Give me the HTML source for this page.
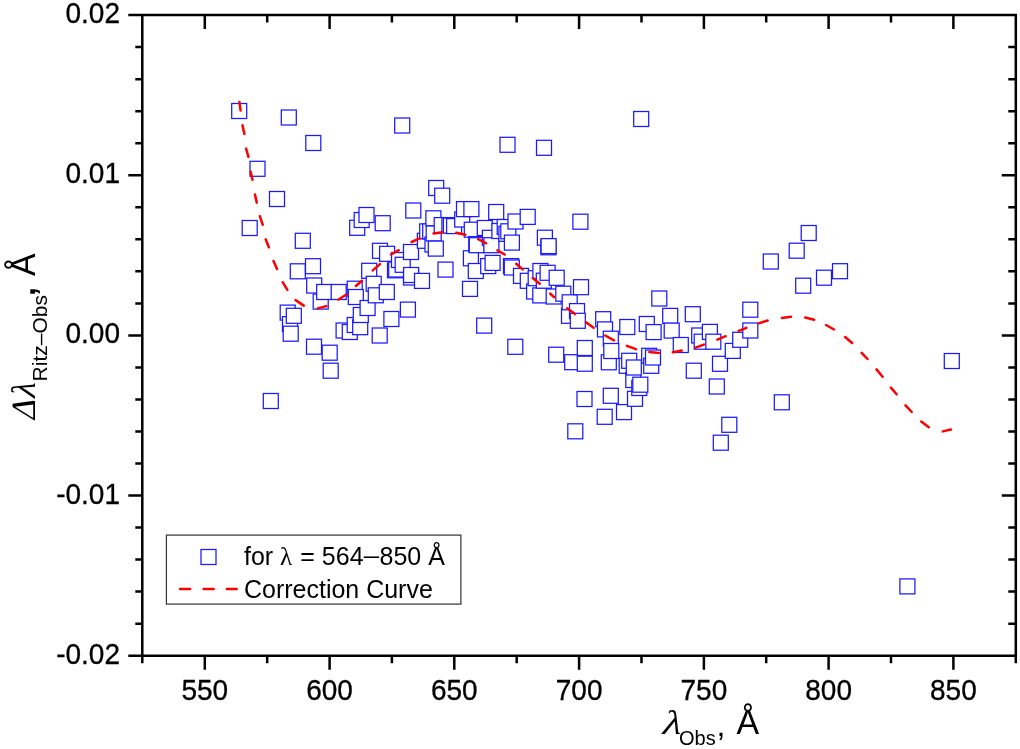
<!DOCTYPE html>
<html><head><meta charset="utf-8"><title>plot</title>
<style>html,body{margin:0;padding:0;background:#fff}svg{display:block}text{font-family:"Liberation Sans",sans-serif;fill:#000}.it{font-family:"Liberation Serif",serif;font-style:italic}</style></head>
<body>
<svg width="1020" height="749" viewBox="0 0 1020 749">
<rect width="1020" height="749" fill="#fff"/>
<g fill="#fff" stroke="#1a1aff" stroke-width="1.25">
<rect x="231.7" y="103.5" width="15.0" height="15.0"/>
<rect x="242.2" y="220.5" width="15.0" height="15.0"/>
<rect x="250.0" y="161.3" width="15.0" height="15.0"/>
<rect x="263.3" y="393.5" width="15.0" height="15.0"/>
<rect x="269.5" y="191.5" width="15.0" height="15.0"/>
<rect x="280.2" y="305.1" width="15.0" height="15.0"/>
<rect x="281.3" y="110.0" width="15.0" height="15.0"/>
<rect x="282.5" y="316.6" width="15.0" height="15.0"/>
<rect x="283.2" y="326.2" width="15.0" height="15.0"/>
<rect x="286.3" y="308.3" width="15.0" height="15.0"/>
<rect x="290.3" y="263.8" width="15.0" height="15.0"/>
<rect x="295.3" y="233.3" width="15.0" height="15.0"/>
<rect x="305.5" y="258.7" width="15.0" height="15.0"/>
<rect x="305.8" y="135.5" width="15.0" height="15.0"/>
<rect x="306.5" y="339.2" width="15.0" height="15.0"/>
<rect x="306.7" y="278.0" width="15.0" height="15.0"/>
<rect x="313.2" y="294.1" width="15.0" height="15.0"/>
<rect x="316.7" y="284.5" width="15.0" height="15.0"/>
<rect x="322.2" y="345.2" width="15.0" height="15.0"/>
<rect x="323.2" y="363.2" width="15.0" height="15.0"/>
<rect x="331.2" y="284.5" width="15.0" height="15.0"/>
<rect x="336.1" y="323.0" width="15.0" height="15.0"/>
<rect x="342.3" y="324.5" width="15.0" height="15.0"/>
<rect x="347.2" y="281.2" width="15.0" height="15.0"/>
<rect x="347.2" y="317.5" width="15.0" height="15.0"/>
<rect x="348.3" y="289.5" width="15.0" height="15.0"/>
<rect x="349.7" y="220.3" width="15.0" height="15.0"/>
<rect x="352.7" y="319.7" width="15.0" height="15.0"/>
<rect x="353.3" y="307.5" width="15.0" height="15.0"/>
<rect x="354.2" y="212.5" width="15.0" height="15.0"/>
<rect x="359.0" y="207.5" width="15.0" height="15.0"/>
<rect x="360.1" y="300.5" width="15.0" height="15.0"/>
<rect x="361.7" y="263.3" width="15.0" height="15.0"/>
<rect x="366.2" y="276.3" width="15.0" height="15.0"/>
<rect x="368.3" y="287.8" width="15.0" height="15.0"/>
<rect x="372.2" y="328.0" width="15.0" height="15.0"/>
<rect x="372.5" y="243.3" width="15.0" height="15.0"/>
<rect x="375.2" y="215.7" width="15.0" height="15.0"/>
<rect x="379.3" y="284.5" width="15.0" height="15.0"/>
<rect x="379.6" y="246.3" width="15.0" height="15.0"/>
<rect x="383.9" y="311.5" width="15.0" height="15.0"/>
<rect x="387.5" y="262.8" width="15.0" height="15.0"/>
<rect x="388.7" y="262.0" width="15.0" height="15.0"/>
<rect x="391.5" y="252.5" width="15.0" height="15.0"/>
<rect x="394.7" y="118.0" width="15.0" height="15.0"/>
<rect x="395.2" y="257.3" width="15.0" height="15.0"/>
<rect x="400.4" y="302.1" width="15.0" height="15.0"/>
<rect x="403.5" y="244.5" width="15.0" height="15.0"/>
<rect x="403.5" y="270.0" width="15.0" height="15.0"/>
<rect x="403.6" y="267.5" width="15.0" height="15.0"/>
<rect x="405.8" y="203.0" width="15.0" height="15.0"/>
<rect x="414.5" y="273.4" width="15.0" height="15.0"/>
<rect x="417.4" y="233.3" width="15.0" height="15.0"/>
<rect x="419.7" y="223.9" width="15.0" height="15.0"/>
<rect x="422.7" y="223.9" width="15.0" height="15.0"/>
<rect x="425.0" y="237.0" width="15.0" height="15.0"/>
<rect x="425.9" y="210.8" width="15.0" height="15.0"/>
<rect x="426.2" y="226.0" width="15.0" height="15.0"/>
<rect x="428.3" y="241.1" width="15.0" height="15.0"/>
<rect x="428.7" y="180.5" width="15.0" height="15.0"/>
<rect x="434.2" y="217.6" width="15.0" height="15.0"/>
<rect x="434.7" y="188.2" width="15.0" height="15.0"/>
<rect x="438.0" y="262.1" width="15.0" height="15.0"/>
<rect x="441.9" y="217.6" width="15.0" height="15.0"/>
<rect x="443.4" y="218.1" width="15.0" height="15.0"/>
<rect x="446.6" y="218.6" width="15.0" height="15.0"/>
<rect x="454.7" y="212.0" width="15.0" height="15.0"/>
<rect x="456.5" y="201.6" width="15.0" height="15.0"/>
<rect x="462.5" y="281.4" width="15.0" height="15.0"/>
<rect x="463.4" y="250.8" width="15.0" height="15.0"/>
<rect x="463.9" y="201.6" width="15.0" height="15.0"/>
<rect x="464.3" y="222.2" width="15.0" height="15.0"/>
<rect x="468.3" y="263.5" width="15.0" height="15.0"/>
<rect x="468.8" y="236.6" width="15.0" height="15.0"/>
<rect x="469.3" y="237.7" width="15.0" height="15.0"/>
<rect x="476.7" y="318.1" width="15.0" height="15.0"/>
<rect x="477.3" y="220.5" width="15.0" height="15.0"/>
<rect x="480.7" y="258.6" width="15.0" height="15.0"/>
<rect x="482.4" y="230.3" width="15.0" height="15.0"/>
<rect x="483.9" y="237.7" width="15.0" height="15.0"/>
<rect x="485.1" y="255.4" width="15.0" height="15.0"/>
<rect x="488.7" y="204.5" width="15.0" height="15.0"/>
<rect x="491.9" y="223.5" width="15.0" height="15.0"/>
<rect x="497.2" y="219.5" width="15.0" height="15.0"/>
<rect x="498.9" y="226.3" width="15.0" height="15.0"/>
<rect x="500.0" y="137.3" width="15.0" height="15.0"/>
<rect x="500.8" y="223.8" width="15.0" height="15.0"/>
<rect x="503.5" y="258.6" width="15.0" height="15.0"/>
<rect x="504.3" y="260.0" width="15.0" height="15.0"/>
<rect x="504.4" y="235.1" width="15.0" height="15.0"/>
<rect x="507.8" y="339.3" width="15.0" height="15.0"/>
<rect x="508.0" y="214.0" width="15.0" height="15.0"/>
<rect x="513.5" y="268.4" width="15.0" height="15.0"/>
<rect x="520.2" y="209.4" width="15.0" height="15.0"/>
<rect x="520.3" y="273.3" width="15.0" height="15.0"/>
<rect x="526.6" y="284.0" width="15.0" height="15.0"/>
<rect x="528.2" y="270.7" width="15.0" height="15.0"/>
<rect x="532.8" y="287.9" width="15.0" height="15.0"/>
<rect x="532.9" y="263.5" width="15.0" height="15.0"/>
<rect x="536.3" y="273.2" width="15.0" height="15.0"/>
<rect x="536.5" y="140.3" width="15.0" height="15.0"/>
<rect x="537.4" y="230.2" width="15.0" height="15.0"/>
<rect x="540.1" y="265.3" width="15.0" height="15.0"/>
<rect x="540.9" y="239.8" width="15.0" height="15.0"/>
<rect x="541.1" y="238.6" width="15.0" height="15.0"/>
<rect x="546.2" y="289.0" width="15.0" height="15.0"/>
<rect x="548.7" y="347.2" width="15.0" height="15.0"/>
<rect x="549.2" y="270.3" width="15.0" height="15.0"/>
<rect x="555.8" y="286.2" width="15.0" height="15.0"/>
<rect x="561.5" y="308.3" width="15.0" height="15.0"/>
<rect x="562.2" y="294.8" width="15.0" height="15.0"/>
<rect x="564.7" y="354.7" width="15.0" height="15.0"/>
<rect x="567.8" y="423.8" width="15.0" height="15.0"/>
<rect x="569.5" y="303.6" width="15.0" height="15.0"/>
<rect x="570.3" y="313.3" width="15.0" height="15.0"/>
<rect x="572.9" y="214.2" width="15.0" height="15.0"/>
<rect x="573.5" y="279.7" width="15.0" height="15.0"/>
<rect x="577.0" y="391.5" width="15.0" height="15.0"/>
<rect x="577.3" y="340.5" width="15.0" height="15.0"/>
<rect x="577.3" y="356.2" width="15.0" height="15.0"/>
<rect x="595.7" y="311.7" width="15.0" height="15.0"/>
<rect x="597.2" y="409.3" width="15.0" height="15.0"/>
<rect x="597.5" y="321.9" width="15.0" height="15.0"/>
<rect x="601.3" y="354.8" width="15.0" height="15.0"/>
<rect x="603.3" y="331.2" width="15.0" height="15.0"/>
<rect x="603.3" y="388.3" width="15.0" height="15.0"/>
<rect x="603.8" y="343.5" width="15.0" height="15.0"/>
<rect x="616.5" y="404.6" width="15.0" height="15.0"/>
<rect x="619.2" y="358.3" width="15.0" height="15.0"/>
<rect x="619.8" y="319.5" width="15.0" height="15.0"/>
<rect x="621.7" y="353.3" width="15.0" height="15.0"/>
<rect x="625.8" y="372.5" width="15.0" height="15.0"/>
<rect x="626.3" y="360.0" width="15.0" height="15.0"/>
<rect x="627.5" y="391.3" width="15.0" height="15.0"/>
<rect x="631.8" y="380.5" width="15.0" height="15.0"/>
<rect x="632.8" y="377.2" width="15.0" height="15.0"/>
<rect x="633.7" y="111.5" width="15.0" height="15.0"/>
<rect x="639.3" y="316.5" width="15.0" height="15.0"/>
<rect x="641.7" y="348.3" width="15.0" height="15.0"/>
<rect x="643.7" y="358.3" width="15.0" height="15.0"/>
<rect x="645.5" y="350.0" width="15.0" height="15.0"/>
<rect x="646.1" y="324.6" width="15.0" height="15.0"/>
<rect x="651.8" y="291.0" width="15.0" height="15.0"/>
<rect x="662.7" y="308.4" width="15.0" height="15.0"/>
<rect x="664.2" y="323.1" width="15.0" height="15.0"/>
<rect x="673.3" y="337.5" width="15.0" height="15.0"/>
<rect x="685.3" y="306.7" width="15.0" height="15.0"/>
<rect x="686.3" y="363.2" width="15.0" height="15.0"/>
<rect x="691.7" y="328.0" width="15.0" height="15.0"/>
<rect x="694.2" y="334.2" width="15.0" height="15.0"/>
<rect x="702.4" y="324.4" width="15.0" height="15.0"/>
<rect x="705.8" y="334.2" width="15.0" height="15.0"/>
<rect x="709.3" y="379.0" width="15.0" height="15.0"/>
<rect x="712.5" y="356.3" width="15.0" height="15.0"/>
<rect x="713.3" y="435.2" width="15.0" height="15.0"/>
<rect x="721.8" y="417.3" width="15.0" height="15.0"/>
<rect x="725.3" y="343.4" width="15.0" height="15.0"/>
<rect x="732.7" y="332.3" width="15.0" height="15.0"/>
<rect x="742.8" y="302.2" width="15.0" height="15.0"/>
<rect x="742.8" y="323.0" width="15.0" height="15.0"/>
<rect x="763.3" y="254.0" width="15.0" height="15.0"/>
<rect x="774.3" y="394.8" width="15.0" height="15.0"/>
<rect x="789.2" y="243.2" width="15.0" height="15.0"/>
<rect x="795.7" y="278.2" width="15.0" height="15.0"/>
<rect x="801.2" y="225.5" width="15.0" height="15.0"/>
<rect x="816.5" y="270.2" width="15.0" height="15.0"/>
<rect x="832.5" y="263.7" width="15.0" height="15.0"/>
<rect x="899.9" y="578.9" width="15.0" height="15.0"/>
<rect x="944.3" y="353.5" width="15.0" height="15.0"/>
</g>
<path d="M239.4 101.9L240.6 110.6M242.5 125.3L244.4 133.9M246.1 148.6L248.4 156.9M250.6 171.6L252.5 179.7M254.9 194.4L256.8 202.6M259.8 216.1L262.7 224.7M265.7 239.3L268.8 247.3M273.5 261.0L277.0 269.0M282.6 282.2L287.4 289.8M295.6 300.1L303.8 305.6M317.8 308.4L326.4 306.1M338.2 299.7L346.0 294.8M355.9 286.0L361.9 280.7M372.8 270.4L380.0 264.1M391.0 254.5L398.7 250.2M411.6 242.0L419.7 238.4M433.6 233.6L442.7 232.2M456.3 232.8L465.4 234.7M478.1 239.2L486.2 243.3M497.5 250.3L504.7 254.5M516.2 263.8L522.6 269.4M532.7 278.0L539.7 283.8M550.3 293.7L554.2 297.2M567.2 308.2L574.9 314.1M585.9 322.3L593.6 327.7M605.2 335.5L614.0 340.3M626.9 345.9L635.9 349.1M649.4 352.1L658.9 352.9M672.8 352.3L681.7 350.5M695.3 347.6L703.9 344.6M717.3 339.6L725.7 336.2M738.6 330.8L746.4 327.9M758.6 323.4L767.6 320.5M781.9 317.9L790.9 316.8M805.3 317.5L814.2 319.7M826.0 325.0L834.0 329.5M845.1 337.0L852.1 343.0M861.6 352.8L867.5 359.0M876.5 369.4L882.6 376.7M890.9 387.6L896.6 394.3M905.5 405.3L911.7 412.0M921.2 421.5L928.8 427.3M942.8 431.4L950.9 429.5" fill="none" stroke="#ff0000" stroke-width="2.5" stroke-linecap="round"/>
<g stroke="#000" stroke-width="2.5" fill="none" stroke-linecap="butt">
<path d="M128.3 15.1H1017.0M128.3 655.7H1017.0"/>
<path d="M142.3 15.1V663.3M1015.8 15.1V663.3"/>
<path d="M204.8 655.7V669.7M204.8 15.1V29.1M267.2 655.7V663.2M267.2 15.1V22.6M329.6 655.7V669.7M329.6 15.1V29.1M391.9 655.7V663.2M391.9 15.1V22.6M454.3 655.7V669.7M454.3 15.1V29.1M516.7 655.7V663.2M516.7 15.1V22.6M579.1 655.7V669.7M579.1 15.1V29.1M641.5 655.7V663.2M641.5 15.1V22.6M703.9 655.7V669.7M703.9 15.1V29.1M766.2 655.7V663.2M766.2 15.1V22.6M828.6 655.7V669.7M828.6 15.1V29.1M891.0 655.7V663.2M891.0 15.1V22.6M953.4 655.7V669.7M953.4 15.1V29.1M142.3 623.7H135.3M1015.8 623.7H1008.3M142.3 591.6H135.3M1015.8 591.6H1008.3M142.3 559.6H135.3M1015.8 559.6H1008.3M142.3 527.6H135.3M1015.8 527.6H1008.3M142.3 495.5H128.3M1015.8 495.5H1001.8M142.3 463.5H135.3M1015.8 463.5H1008.3M142.3 431.5H135.3M1015.8 431.5H1008.3M142.3 399.5H135.3M1015.8 399.5H1008.3M142.3 367.4H135.3M1015.8 367.4H1008.3M142.3 335.4H128.3M1015.8 335.4H1001.8M142.3 303.4H135.3M1015.8 303.4H1008.3M142.3 271.3H135.3M1015.8 271.3H1008.3M142.3 239.3H135.3M1015.8 239.3H1008.3M142.3 207.3H135.3M1015.8 207.3H1008.3M142.3 175.2H128.3M1015.8 175.2H1001.8M142.3 143.2H135.3M1015.8 143.2H1008.3M142.3 111.2H135.3M1015.8 111.2H1008.3M142.3 79.2H135.3M1015.8 79.2H1008.3M142.3 47.1H135.3M1015.8 47.1H1008.3" stroke-width="2.5"/>
</g>
<g font-size="28" transform="scale(1,1.07)" stroke="#000" stroke-width="0.3">
<text x="204.8" y="654.39" text-anchor="middle">550</text>
<text x="329.6" y="654.39" text-anchor="middle">600</text>
<text x="454.3" y="654.39" text-anchor="middle">650</text>
<text x="579.1" y="654.39" text-anchor="middle">700</text>
<text x="703.9" y="654.39" text-anchor="middle">750</text>
<text x="828.6" y="654.39" text-anchor="middle">800</text>
<text x="953.4" y="654.39" text-anchor="middle">850</text>
<text x="120.0" y="21.68" text-anchor="end">0.02</text>
<text x="120.0" y="171.36" text-anchor="end">0.01</text>
<text x="120.0" y="321.03" text-anchor="end">0.00</text>
<text x="120.0" y="470.70" text-anchor="end">-0.01</text>
<text x="120.0" y="620.37" text-anchor="end">-0.02</text>
</g>
<rect x="166.4" y="535.1" width="294.5" height="69" fill="#fff" stroke="#333" stroke-width="1.2"/>
<rect x="201.0" y="549.5" width="15.0" height="15.0" fill="#fff" stroke="#1a1aff" stroke-width="1.25"/>
<path d="M180.1 589H190.1M203.6 589H213.6M226.8 589H236.6" stroke="#ff0000" stroke-width="2.5" stroke-linecap="round" fill="none"/>
<g font-size="25" transform="scale(1,1.03)">
<text x="244" y="548.83">for <tspan style="font-family:'Liberation Serif',serif">λ</tspan><tspan dx="1.2"> </tspan>= 564<tspan style="font-family:'Liberation Serif',serif" font-size="30" dx="0.5">–</tspan><tspan dx="0.5">850</tspan> Å</text>
<text x="244" y="580.87">Correction Curve</text>
</g>
<g font-size="34">
<text transform="translate(660.3,733.6) skewX(-16) scale(1.2,1)" style="font-family:'Liberation Serif',serif">λ</text>
<text x="679" y="745" font-size="20">Obs</text>
<text x="716.5" y="736.2" font-size="32">,</text>
<text transform="translate(736.4,733.6) scale(1,1.04)">Å</text>
</g>
<g transform="translate(35,421) rotate(-90)" font-size="34">
<text transform="translate(-0.8,0) skewX(-14)" style="font-family:'Liberation Serif',serif">Δ</text>
<text transform="translate(21.2,0) skewX(-14)" style="font-family:'Liberation Serif',serif">λ</text>
<text x="39.6" y="12.4" font-size="21">Ritz–Obs</text>
<text x="125" y="0" font-size="32" font-weight="bold">,</text>
<text transform="translate(145,0) scale(1,1.04)">Å</text>
</g>
</svg>
</body></html>
